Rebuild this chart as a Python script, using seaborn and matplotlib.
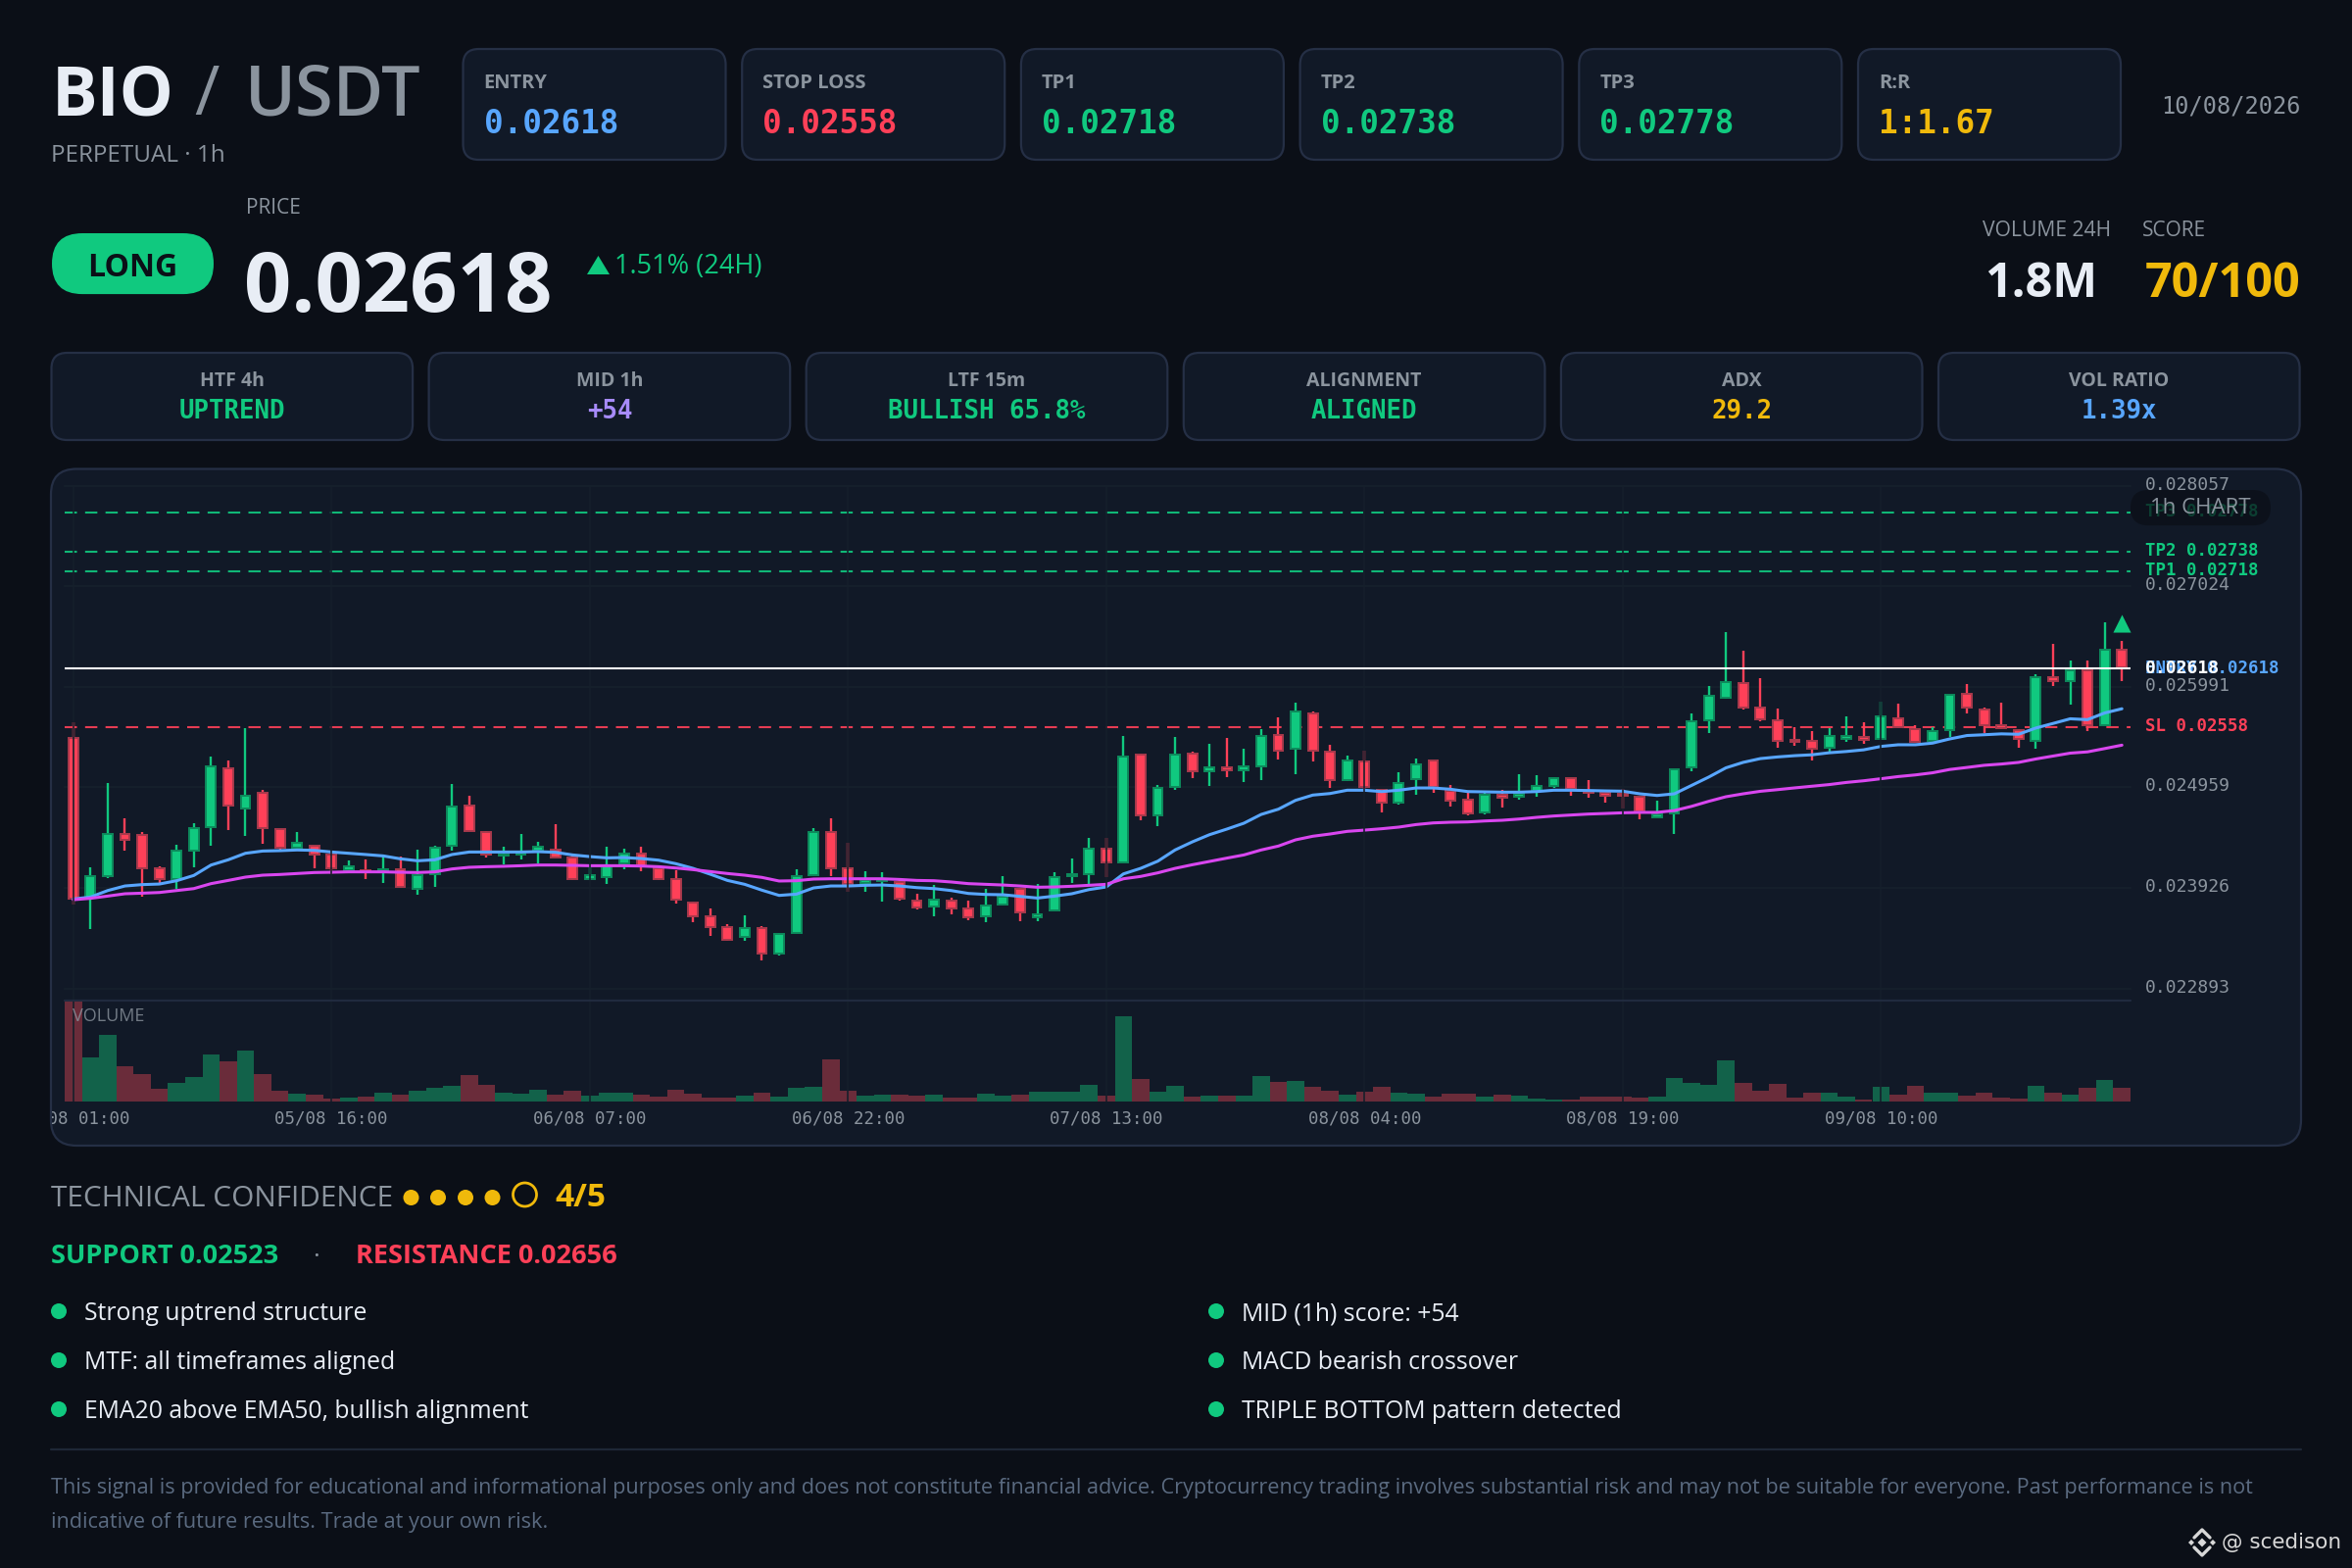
import numpy as np
import pandas as pd
import seaborn as sns
import matplotlib.pyplot as plt
from matplotlib.patches import FancyBboxPatch, Circle, Polygon
from matplotlib.transforms import Bbox

BG = "#0b0f17"
CARD = "#111927"
BORDER = "#252f45"
GRID = "#151f2b"
GREY = "#8b949e"
WHITE = "#e8edf5"
GREEN = "#10c97f"
RED = "#ff4058"
BLUE = "#58a6ff"
ORANGE = "#f0b90b"
PURPLE = "#a78bfa"
MAGENTA = "#d946ef"
SANS = "Open Sans"
MONO = "DejaVu Sans Mono"

# price data, in millionths of USDT
open_prices = [
    25470, 23825, 24047, 24483, 24470, 24127, 24020, 24305, 24547, 25158,
    24738, 24900, 24530, 24336, 24363, 24272, 24111, 24104, 24104, 24121,
    23919, 24070, 24363, 24775, 24500, 24255, 24265, 24309, 24322, 24238,
    24013, 24037, 24175, 24282, 24127, 24013, 23772, 23631, 23520, 23419,
    23513, 23248, 23459, 24060, 24500, 24127, 23980, 23993, 23987, 23799,
    23731, 23799, 23718, 23631, 23752, 23919, 23627, 23691, 24047, 24070,
    24332, 24188, 25292, 24668, 24967, 25302, 25128, 25161, 25138, 25175,
    25501, 25356, 25719, 25323, 25037, 25229, 24937, 24806, 25041, 25239,
    24920, 24829, 24702, 24880, 24859, 24927, 24977, 25057, 24916, 24903,
    24893, 24866, 24655, 24687, 25160, 25647, 25883, 26030, 25776, 25647,
    25449, 25436, 25367, 25457, 25479, 25461, 25672, 25560, 25440, 25548,
    25918, 25758, 25595, 25552, 25440, 26090, 26055, 26159, 25595, 26374,
]
close_prices = [
    23812, 24047, 24477, 24423, 24127, 24013, 24309, 24540, 25178, 24775,
    24876, 24537, 24336, 24393, 24265, 24131, 24144, 24094, 24121, 23936,
    24060, 24339, 24765, 24507, 24265, 24272, 24282, 24352, 24238, 24017,
    24054, 24154, 24282, 24144, 24013, 23809, 23637, 23520, 23396, 23510,
    23248, 23453, 24047, 24497, 24127, 23970, 24003, 24013, 23819, 23728,
    23809, 23711, 23621, 23748, 23839, 23671, 23651, 24040, 24070, 24329,
    24188, 25279, 24675, 24950, 25299, 25128, 25161, 25135, 25172, 25490,
    25333, 25739, 25333, 25037, 25239, 24960, 24806, 25007, 25195, 24960,
    24826, 24695, 24886, 24856, 24893, 24977, 25051, 24947, 24900, 24876,
    24876, 24708, 24685, 25143, 25638, 25905, 26038, 25780, 25655, 25436,
    25423, 25354, 25492, 25492, 25449, 25685, 25578, 25427, 25539, 25909,
    25776, 25603, 25569, 25453, 26090, 26055, 26163, 25595, 26370, 26193,
]
high_prices = [
    25631, 24138, 25000, 24641, 24497, 24151, 24373, 24591, 25272, 25235,
    25571, 24933, 24530, 24497, 24363, 24289, 24211, 24222, 24272, 24248,
    24322, 24356, 24994, 24869, 24510, 24346, 24480, 24403, 24581, 24255,
    24154, 24346, 24332, 24346, 24138, 24104, 23782, 23711, 23550, 23644,
    23533, 23463, 24114, 24540, 24641, 24389, 24094, 24087, 24020, 23862,
    23953, 23825, 23792, 23913, 24044, 23926, 23970, 24087, 24232, 24440,
    24440, 25490, 25302, 24980, 25480, 25329, 25403, 25464, 25353, 25554,
    25682, 25830, 25739, 25400, 25282, 25339, 24937, 25111, 25252, 25239,
    24980, 24910, 24927, 24933, 25094, 25081, 25061, 25057, 25034, 24903,
    24943, 24866, 24826, 25143, 25715, 26004, 26559, 26365, 26077, 25767,
    25582, 25539, 25569, 25685, 25625, 25840, 25819, 25595, 25573, 25909,
    26025, 25776, 25827, 25560, 26120, 26438, 26266, 26258, 26658, 26469,
]
low_prices = [
    23752, 23500, 24027, 24305, 23832, 23953, 23913, 24138, 24356, 24524,
    24457, 24376, 24316, 24336, 24131, 24070, 24104, 24020, 23976, 23926,
    23852, 23936, 24312, 24507, 24235, 24164, 24222, 24181, 24235, 24003,
    24013, 23966, 24117, 24097, 24003, 23765, 23574, 23436, 23382, 23382,
    23178, 23228, 23459, 24060, 24047, 23886, 23886, 23785, 23795, 23705,
    23634, 23654, 23594, 23574, 23752, 23584, 23584, 23691, 23973, 23970,
    24037, 24188, 24624, 24564, 24937, 25051, 24973, 25061, 25017, 25034,
    25242, 25094, 25225, 24953, 25027, 24910, 24702, 24782, 24883, 24906,
    24762, 24675, 24685, 24752, 24836, 24866, 24957, 24873, 24853, 24802,
    24742, 24634, 24655, 24476, 25126, 25522, 25870, 25763, 25638, 25371,
    25388, 25238, 25324, 25423, 25405, 25453, 25569, 25418, 25440, 25474,
    25720, 25517, 25560, 25362, 25358, 26000, 25810, 25539, 25595, 26047,
]
ema20 = [
    23812, 23832, 23899, 23946, 23960, 23966, 24000, 24054, 24161, 24215,
    24282, 24305, 24309, 24316, 24312, 24295, 24282, 24269, 24255, 24225,
    24205, 24215, 24269, 24295, 24295, 24295, 24295, 24299, 24292, 24265,
    24248, 24235, 24238, 24228, 24211, 24175, 24127, 24067, 24003, 23963,
    23903, 23849, 23862, 23926, 23946, 23946, 23953, 23956, 23946, 23929,
    23919, 23899, 23869, 23859, 23856, 23839, 23822, 23842, 23866, 23909,
    23936, 24070, 24127, 24201, 24316, 24399, 24473, 24530, 24591, 24681,
    24735, 24826, 24880, 24896, 24930, 24930, 24916, 24930, 24953, 24953,
    24940, 24916, 24913, 24910, 24910, 24916, 24930, 24930, 24927, 24923,
    24920, 24893, 24876, 24893, 24979, 25065, 25160, 25216, 25255, 25272,
    25285, 25294, 25315, 25328, 25345, 25380, 25397, 25397, 25414, 25457,
    25492, 25500, 25509, 25505, 25569, 25616, 25664, 25655, 25724, 25767,
]
ema50 = [
    23805, 23819, 23842, 23866, 23872, 23879, 23899, 23919, 23970, 24003,
    24037, 24057, 24064, 24074, 24084, 24087, 24091, 24091, 24091, 24087,
    24084, 24091, 24121, 24138, 24144, 24148, 24154, 24161, 24161, 24158,
    24154, 24154, 24154, 24151, 24144, 24131, 24114, 24094, 24074, 24057,
    24034, 23997, 24000, 24017, 24020, 24020, 24020, 24020, 24013, 24003,
    24000, 23987, 23970, 23963, 23956, 23946, 23933, 23936, 23943, 23953,
    23963, 24020, 24044, 24081, 24127, 24164, 24198, 24232, 24265, 24316,
    24356, 24420, 24457, 24480, 24507, 24520, 24534, 24551, 24577, 24594,
    24601, 24604, 24614, 24621, 24634, 24651, 24665, 24675, 24685, 24691,
    24698, 24702, 24702, 24721, 24764, 24816, 24863, 24893, 24919, 24936,
    24954, 24971, 24988, 25010, 25027, 25048, 25070, 25087, 25109, 25143,
    25164, 25186, 25199, 25216, 25251, 25281, 25311, 25324, 25358, 25393,
]
volumes = [
    307, 134, 204, 108, 83, 39, 57, 75, 145, 123,
    158, 83, 32, 24, 21, 9, 12, 15, 26, 22,
    32, 41, 48, 81, 51, 26, 24, 36, 21, 32,
    17, 28, 27, 21, 14, 36, 24, 12, 12, 18,
    27, 15, 41, 46, 129, 33, 17, 20, 20, 17,
    21, 12, 12, 24, 18, 20, 30, 31, 29, 51,
    17, 263, 68, 30, 48, 15, 17, 17, 18, 77,
    60, 64, 45, 32, 20, 29, 44, 26, 24, 15,
    25, 24, 14, 21, 19, 10, 7, 5, 14, 15,
    14, 11, 15, 72, 56, 51, 126, 56, 32, 55,
    13, 26, 28, 15, 6, 46, 21, 47, 26, 28,
    18, 26, 13, 8, 49, 28, 22, 41, 65, 41,
]
price_ticks = [28057, 27024, 25991, 24959, 23926, 22893]
time_labels = ["05/08 01:00", "05/08 16:00", "06/08 07:00", "06/08 22:00",
               "07/08 13:00", "08/08 04:00", "08/08 19:00", "09/08 10:00"]
time_ticks = [0, 15, 30, 45, 60, 75, 90, 105]
tp_levels = [27780, 27380, 27180]
sl_level = 25580
entry_level = 26180

top_cards = [("ENTRY", "0.02618", BLUE), ("STOP LOSS", "0.02558", RED),
             ("TP1", "0.02718", GREEN), ("TP2", "0.02738", GREEN),
             ("TP3", "0.02778", GREEN), ("R:R", "1:1.67", ORANGE)]
metric_cards = [("HTF 4h", "UPTREND", GREEN), ("MID 1h", "+54", PURPLE),
                ("LTF 15m", "BULLISH 65.8%", GREEN), ("ALIGNMENT", "ALIGNED", GREEN),
                ("ADX", "29.2", ORANGE), ("VOL RATIO", "1.39x", BLUE)]
left_notes = ["Strong uptrend structure", "MTF: all timeframes aligned",
              "EMA20 above EMA50, bullish alignment"]
right_notes = ["MID (1h) score: +54", "MACD bearish crossover",
               "TRIPLE BOTTOM pattern detected"]
disclaimer = [
    "This signal is provided for educational and informational purposes only and does not constitute financial advice. Cryptocurrency trading involves substantial risk and may not be suitable for everyone. Past performance is not",
    "indicative of future results. Trade at your own risk.",
]

df = pd.DataFrame({"i": range(len(open_prices)), "open": open_prices, "close": close_prices,
                   "high": high_prices, "low": low_prices, "ema20": ema20, "ema50": ema50,
                   "volume": volumes})
df["dir"] = np.where(df["close"] >= df["open"], "up", "down")

sns.set_theme(style="dark", rc={"figure.facecolor": BG, "axes.facecolor": CARD})
plt.rcParams["font.family"] = [SANS, "DejaVu Sans"]

fig = plt.figure(figsize=(24, 16), dpi=100, facecolor=BG)
W, H = 2400, 1600


def axes_px(x0, y0, x1, y1, **kw):
    return fig.add_axes([x0 / W, 1 - y1 / H, (x1 - x0) / W, (y1 - y0) / H], **kw)


# page layer in pixel coordinates
page = axes_px(0, 0, W, H)
page.set_xlim(0, W)
page.set_ylim(H, 0)
page.axis("off")
page.set_facecolor("none")


def card(x0, y0, x1, y1, r=16):
    p = FancyBboxPatch((x0 + r, y0 + r), x1 - x0 - 2 * r, y1 - y0 - 2 * r,
                       boxstyle=f"round,pad={r},rounding_size={r}",
                       fc=CARD, ec=BORDER, lw=1.6)
    page.add_patch(p)
    return p


def txt(x, y, s, size, color=GREY, weight="normal", ha="left", va="baseline", family=SANS, **kw):
    return page.text(x, y, s, fontsize=size, color=color, fontweight=weight, ha=ha, va=va,
                     family=family, **kw)


# header
txt(53, 117, "BIO", 50, WHITE, "bold")
txt(198, 117, "/", 50, GREY)
txt(250, 117, "USDT", 50.5, GREY, "semibold")
txt(52, 165, "PERPETUAL · 1h", 17.5, GREY)
txt(2348, 109, "10/08/2026", 17, GREY, ha="right", va="center", family=MONO)

for k, (lab, val, col) in enumerate(top_cards):
    x0 = 472.5 + 284.7 * k
    card(x0, 50, x0 + 268, 163)
    txt(x0 + 21, 90, lab, 14.5, GREY, "bold")
    txt(x0 + 21, 136, val, 23.5, col, "bold", family=MONO)

# price row
pill = FancyBboxPatch((53 + 31, 238 + 31), 165 - 62, 0.1, boxstyle="round,pad=31,rounding_size=31",
                      fc=GREEN, ec="none")
page.add_patch(pill)
txt(135, 282, "LONG", 23, BG, "bold", ha="center")
txt(251, 218, "PRICE", 15, GREY)
txt(249, 318, "0.02618", 61, WHITE, "bold")
page.add_patch(Polygon([[599, 280], [622, 280], [610.5, 261]], fc=GREEN, ec="none"))
txt(627, 279, "1.51% (24H)", 19.5, GREEN)
txt(2023, 241, "VOLUME 24H", 15.2, GREY)
txt(2186, 241, "SCORE", 15, GREY)
txt(2025, 303, "1.8M", 35, WHITE, "bold")
txt(2348, 303, "70/100", 35, ORANGE, "bold", ha="right")

for k, (lab, val, col) in enumerate(metric_cards):
    x0 = 52.5 + 385.1 * k
    card(x0, 360, x0 + 368.6, 449)
    cx = x0 + 184.3
    txt(cx, 394, lab, 14, GREY, "bold", ha="center")
    txt(cx, 427, val, 18.5, col, "bold", ha="center", family=MONO)

chart_card = card(52, 478.5, 2348, 1169, r=26)

# price panel
ax = axes_px(66, 496, 2174, 1020)
ax.set_facecolor("none")
to_price = lambda y: 26605 - 10.07 * (y - 640)
ax.set_xlim(-0.5, 119.5)
ax.set_ylim(to_price(1020), to_price(496))

for t in price_ticks:
    ax.axhline(t, color=GRID, lw=1.6, zorder=1, clip_on=False)

# candles
colors = df["dir"].map({"up": GREEN, "down": RED})
edges = df["dir"].map({"up": "#0d8a5c", "down": "#a8394c"})
ax.vlines(df["i"], df["low"], df["high"], colors=colors, lw=1.7, zorder=3)
body_low = df[["open", "close"]].min(axis=1)
body_high = df[["open", "close"]].max(axis=1)
ax.bar(df["i"], body_high - body_low, bottom=body_low, width=0.56, color=colors,
       edgecolor=edges, linewidth=1.4, zorder=4)

# levels
dash = (0, (6, 4))
for lv in tp_levels:
    ax.axhline(lv, color=GREEN, lw=1.5, ls=dash, alpha=0.9, zorder=2)
ax.axhline(sl_level, color=RED, lw=1.5, ls=dash, alpha=0.9, zorder=2)
ax.axhline(entry_level, color="white", lw=1.5, zorder=9)

sns.lineplot(data=df, x="i", y="ema20", color=BLUE, lw=2.2, ax=ax, zorder=6)
sns.lineplot(data=df, x="i", y="ema50", color=MAGENTA, lw=2.2, ax=ax, zorder=6)
ax.scatter([119], [26650], marker="^", s=170, color=GREEN, linewidths=0, zorder=7)

for t in time_ticks:
    ax.axvline(t, color=GRID, lw=1.3, zorder=8, alpha=0.9)
ax.set_xticks([])
ax.set_yticks([])
ax.set_xlabel("")
ax.set_ylabel("")
ax.grid(False)
for s in ax.spines.values():
    s.set_visible(False)

# volume panel
vax = axes_px(66, 1022, 2174, 1124)
vax.set_facecolor("none")
sns.barplot(data=df, x="i", y="volume", hue="dir", palette={"up": "#12624a", "down": "#6a2c3a"},
            dodge=False, width=1, native_scale=True, legend=False, ax=vax, zorder=3,
            linewidth=0, saturation=1)
vax.set_xlim(-0.5, 119.5)
vax.set_ylim(0, 307)
for t in time_ticks:
    vax.axvline(t, color=GRID, lw=1.3, zorder=8, alpha=0.9)
vax.set_xticks([])
vax.set_yticks([])
vax.set_xlabel("")
vax.set_ylabel("")
vax.grid(False)
for s in vax.spines.values():
    s.set_visible(False)
page.plot([66, 2174], [1020.5, 1020.5], color=BORDER, lw=1.6, alpha=0.8)

# axis labels on the page layer, over the card
top = fig.add_axes([0, 0, 1, 1], facecolor="none")
top.set_xlim(0, W)
top.set_ylim(H, 0)
top.axis("off")

y_of = lambda p: 640 + (26605 - p) / 10.07
for t in price_ticks:
    top.text(2189, y_of(t) - 1, f"0.{t:06d}", fontsize=13, color=GREY, family=MONO, va="center")
top.text(2189, y_of(27780) - 1, "TP3 0.02778", fontsize=12.5, color=GREEN, family=MONO,
         weight="bold", va="center", zorder=2)
badge = FancyBboxPatch((2192, 518), 107, 0.1, boxstyle="round,pad=18,rounding_size=18",
                       fc=BG, ec="none", alpha=0.75, zorder=3)
top.add_patch(badge)
top.text(2245, 519, "1h CHART", fontsize=16, color=GREY, ha="center", va="center", zorder=4)
top.text(2189, y_of(27380) - 1, "TP2 0.02738", fontsize=12.5, color=GREEN, family=MONO,
         weight="bold", va="center")
top.text(2189, y_of(27180) - 1, "TP1 0.02718", fontsize=12.5, color=GREEN, family=MONO,
         weight="bold", va="center")
top.text(2189, y_of(25580) - 1, "SL 0.02558", fontsize=12.5, color=RED, family=MONO,
         weight="bold", va="center")
top.text(2189, y_of(26180), "ENTRY 0.02618", fontsize=12.5, color=BLUE, family=MONO,
         weight="bold", va="center")
top.text(2189, y_of(26180), "0.02618", fontsize=13, color="white", family=MONO,
         weight="bold", va="center")
top.text(74, 1042, "VOLUME", fontsize=13, color=GREY, family=SANS, alpha=0.8)
clip = Bbox([[53, 0], [2347, 1600]])
for t, lab in zip(time_ticks, time_labels):
    tx = top.text(74.6 + 17.57 * t, 1142, lab, fontsize=12.5, color=GREY, family=MONO,
                  ha="center", va="center", clip_on=True)
    tx.set_clip_box(clip)

# confidence block
txt(52, 1231, "TECHNICAL CONFIDENCE", 21.4, GREY)
for x in [419.5, 447, 475, 502.5]:
    page.add_patch(Circle((x, 1222), 8, fc=ORANGE, ec="none"))
page.add_patch(Circle((535.5, 1219), 12, fc="none", ec=ORANGE, lw=2))
txt(566, 1231, "4/5", 24, ORANGE, "bold")
txt(52, 1289, "SUPPORT 0.02523", 19.5, GREEN, "bold")
txt(319, 1289, "·", 18.5, GREY)
txt(363, 1289, "RESISTANCE 0.02656", 19.5, RED, "bold")

for note, y in zip(left_notes, [1347, 1397, 1447]):
    page.add_patch(Circle((60, y - 9), 8, fc=GREEN, ec="none"))
    txt(86, y, note, 17.8, WHITE)
for note, y in zip(right_notes, [1347, 1397, 1447]):
    page.add_patch(Circle((1241, y - 9), 8, fc=GREEN, ec="none"))
    txt(1267, y, note, 17.8, WHITE)

page.plot([52, 2348], [1478.5, 1478.5], color="#1e2736", lw=1.6)
txt(52, 1524, disclaimer[0], 15.6, "#5a6a80")
txt(52, 1559, disclaimer[1], 15.6, "#5a6a80")

# watermark
wm = "#d8d8d8"
for dx, dy, r in [(0, 0, 4.5), (-11, 0, 3), (11, 0, 3)]:
    page.add_patch(Polygon([[2247 + dx - r, 1574 + dy], [2247 + dx, 1574 + dy - r],
                            [2247 + dx + r, 1574 + dy], [2247 + dx, 1574 + dy + r]], fc=wm, ec="none"))
page.plot([2239, 2247, 2255], [1569, 1561, 1569], color=wm, lw=2.4)
page.plot([2239, 2247, 2255], [1579, 1587, 1579], color=wm, lw=2.4)
txt(2267, 1574, "@ scedison", 15.5, wm, va="center", family="DejaVu Sans")

fig.savefig("out.png", dpi=100, facecolor=BG)
